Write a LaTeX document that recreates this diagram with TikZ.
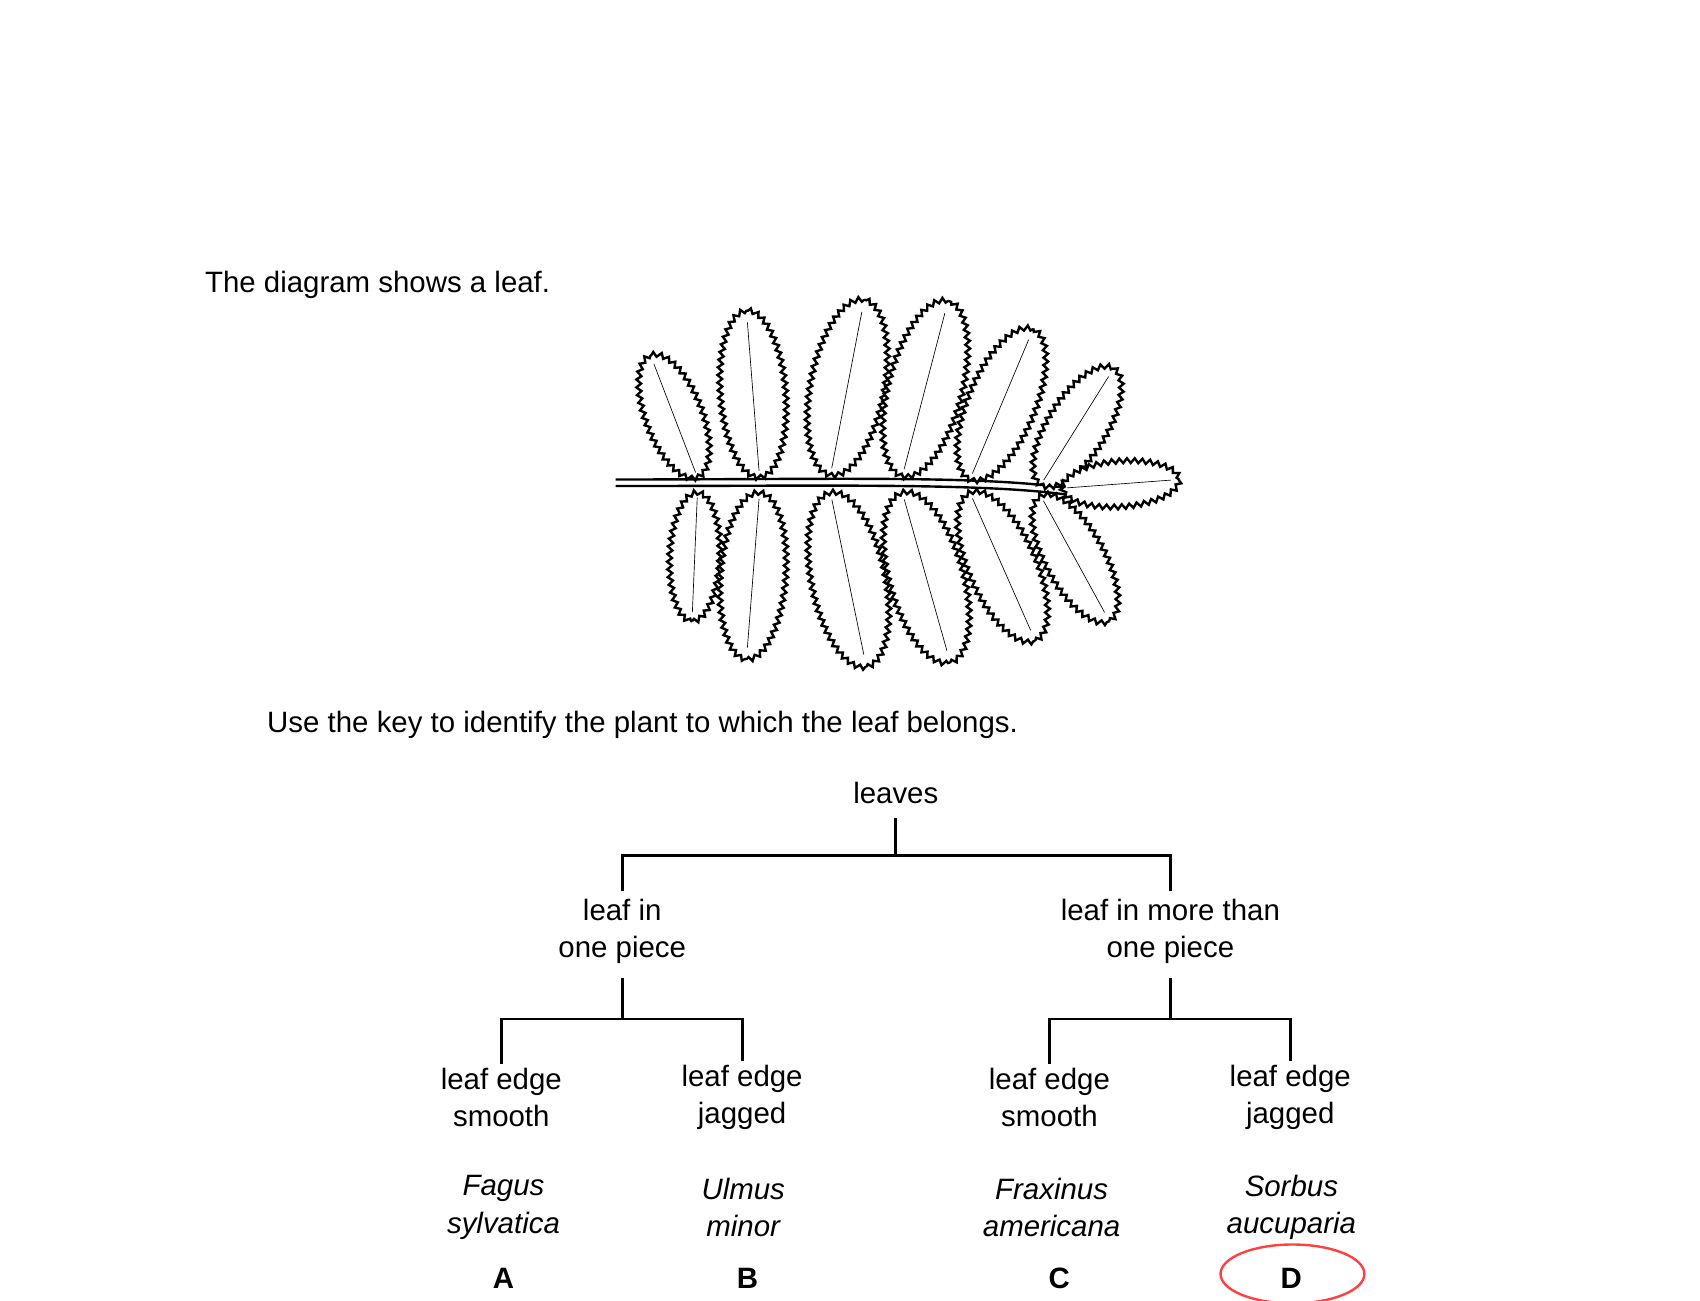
\documentclass[tikz,border=0pt]{standalone}
\usepackage{fontspec}
\setmainfont{Liberation Sans}
\usetikzlibrary{calc,decorations.pathmorphing}
\tikzset{
  leafl/.style={draw=black,line width=2.2pt,fill=white,decorate,decoration={zigzag,segment length=7pt,amplitude=2.2pt}},
  rib/.style={draw=black,line width=0.6pt},
  txt/.style={font=\fontsize{27}{34}\selectfont,align=center,inner sep=0pt},
  itx/.style={txt,font=\fontsize{27}{34}\selectfont\itshape},
  let/.style={txt,font=\fontsize{27}{34}\selectfont\bfseries},
  br/.style={line width=2.6pt,line cap=rect}
}
\newcommand\leaflet[3]{%
  \path let \p1=(#1), \p2=(#2), \p3=($(#1)!0.5!(#2)$), \n1={atan2(\y2-\y1,\x2-\x1)}, \n2={veclen(\x2-\x1,\y2-\y1)/2} in
    [leafl,rotate around={\n1:(\p3)}] (\p3) ellipse [x radius=\n2, y radius=#3pt];
  \draw[rib] ($(#1)!0.04!(#2)$) -- ($(#1)!0.93!(#2)$);
}
\begin{document}
\begin{tikzpicture}[x=1pt,y=-1pt]
\useasboundingbox (0,0) rectangle (1560,1193);
\node[txt,anchor=west] (t1) at (188,261) {The diagram shows a leaf.};
% rachis
\draw[line width=2.2pt] (565,440) .. controls (760,440) and (900,436) .. (980,448);
\draw[line width=2.2pt] (565,446) .. controls (760,446) and (900,443) .. (980,454);
% leaflets
\leaflet{640,438}{597,326}{26}
\leaflet{697,438}{685,285}{30}
\leaflet{762,436}{793,275}{34}
\leaflet{828,437}{870,276}{34}
\leaflet{890,440}{948,302}{31}
\leaflet{955,445}{1022,338}{27}
\leaflet{640,452}{635,570}{23}
\leaflet{697,452}{685,605}{30}
\leaflet{762,452}{795,612}{34}
\leaflet{828,452}{872,608}{34}
\leaflet{890,452}{950,588}{31}
\leaflet{955,455}{1018,570}{27}
\leaflet{975,448}{1082,440}{21}
\node[txt,anchor=west] (t2) at (245,665) {Use the key to identify the plant to which the leaf belongs.};
% key
\node[txt] (lv) at (822,728) {leaves};
\node[txt] (l1) at (571,855) {leaf in\\one piece};
\node[txt] (l2) at (1074,855) {leaf in more than\\one piece};
\node[txt] (a1) at (460,1007) {leaf edge\\smooth};
\node[txt] (a2) at (681,1007) {leaf edge\\jagged};
\node[txt] (a3) at (963,1007) {leaf edge\\smooth};
\node[txt] (a4) at (1184,1007) {leaf edge\\jagged};
\node[itx] (s1) at (462,1108) {Fagus\\sylvatica};
\node[itx] (s2) at (682,1108) {Ulmus\\minor};
\node[itx] (s3) at (965,1108) {Fraxinus\\americana};
\node[itx] (s4) at (1185,1108) {Sorbus\\aucuparia};
\node[let] (A) at (462,1173) {A};
\node[let] (B) at (686,1173) {B};
\node[let] (C) at (972,1173) {C};
\node[let] (D) at (1185,1173) {D};
\draw[red!75!white,line width=2.2pt] (1186,1169) ellipse [x radius=66, y radius=27];
\coordinate (j0) at (822,785);
\coordinate (j1) at (571,935);
\coordinate (j2) at (1074,935);
\draw[br] (lv.south) ++(0,14) -- (j0) -| ($(l1.north)+(0,-9)$);
\draw[br] (j0) -| ($(l2.north)+(0,-9)$);
\draw[br] ($(l1.south)+(0,14)$) -- (j1) -| ($(a1.north)+(0,-5)$);
\draw[br] (j1) -| ($(a2.north)+(0,-5)$);
\draw[br] ($(l2.south)+(0,14)$) -- (j2) -| ($(a3.north)+(0,-5)$);
\draw[br] (j2) -| ($(a4.north)+(0,-5)$);
\end{tikzpicture}
\end{document}
